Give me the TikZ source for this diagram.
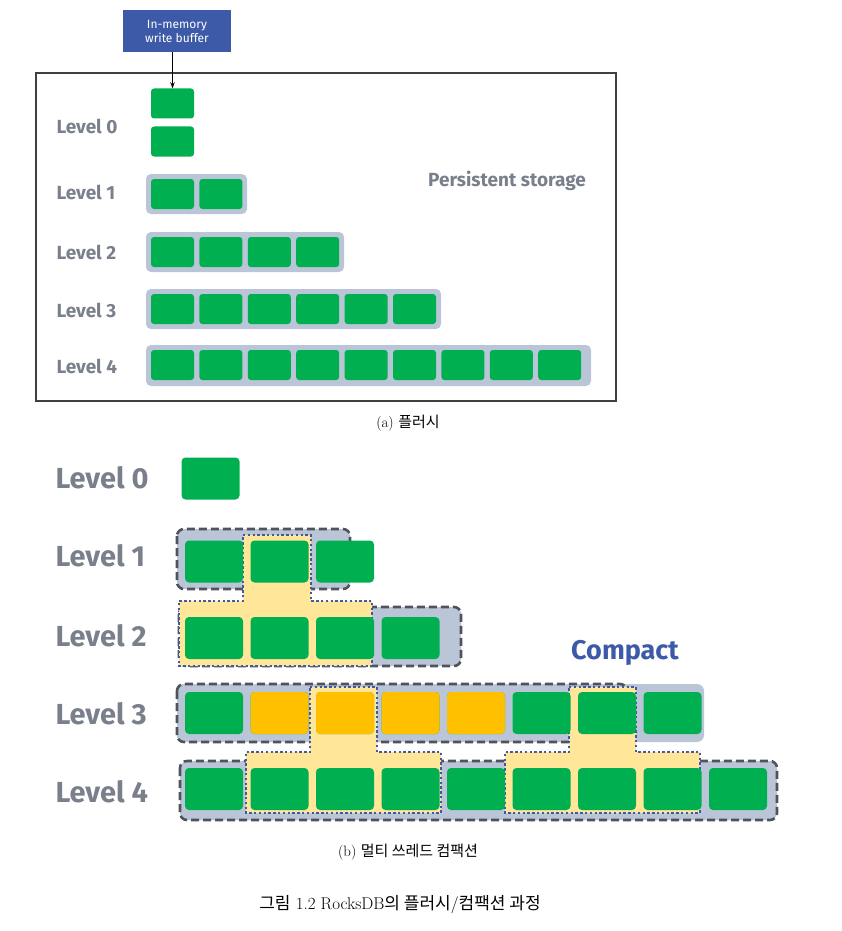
\documentclass[tikz,border=0pt]{standalone}
\usepackage{fontspec}
\setsansfont{Fira Sans}
\newfontfamily\kr{Noto Sans CJK KR}
\usetikzlibrary{arrows.meta}
\definecolor{grn}{HTML}{00B050}
\definecolor{org}{HTML}{FFC000}
\definecolor{ylw}{HTML}{FFE699}
\definecolor{gbg}{HTML}{BAC5D8}
\definecolor{dsh}{HTML}{50535A}
\definecolor{dblue}{HTML}{3D5AA8}
\definecolor{lbl}{HTML}{7A7F8C}
\begin{document}
\begin{tikzpicture}[x=1pt,y=-1pt,
  blk/.style={fill=grn,rounded corners=3pt,draw=none,inner sep=0pt},
  ablk/.style={blk,minimum width=43pt,minimum height=30pt},
  bblk/.style={blk,minimum width=58pt,minimum height=42pt,rounded corners=4pt},
  abg/.style={fill=gbg,rounded corners=5pt},
  bbg/.style={fill=gbg,draw=dsh,line width=2.6pt,dash pattern=on 8pt off 4pt,rounded corners=7pt},
  yreg/.style={fill=ylw,draw=dblue,line width=2.6pt,dash pattern=on 2.4pt off 2.4pt},
  alab/.style={font=\sffamily\bfseries\fontsize{19}{20}\selectfont,text=lbl},
  blab/.style={font=\sffamily\bfseries\fontsize{29}{30}\selectfont,text=lbl},
  captxt/.style={font=\fontsize{15}{16}\selectfont}]
\useasboundingbox (0,0) rectangle (841,931);
% ---------- (a)
\node[draw=black!75,line width=1.6pt,minimum width=580pt,minimum height=328pt,anchor=north west,inner sep=0pt] (frame) at (35,72) {};
\node[fill=dblue,text=white,font=\sffamily\fontsize{12}{14}\selectfont,align=center,minimum width=108pt,minimum height=42pt,inner sep=0pt] (wb) at (177,31) {In-memory\\write buffer};
\node[ablk] (a00) at (172.5,103.5) {};
\node[ablk] (a01) at (172.5,141.5) {};
\draw[-{Stealth[length=6pt]},line width=1.6pt] (wb.south -| a00) -- (a00.north);
\fill[abg] (146,174) rectangle (247,214);
\fill[abg] (146,232) rectangle (344,272);
\fill[abg] (146,289) rectangle (441,329);
\fill[abg] (146,345) rectangle (591,386);
\foreach \n/\y [count=\r] in {2/194,4/252,6/309,9/365}{
  \foreach \i in {1,...,\n}{
    \node[ablk] (a\r\i) at ({172.5+48.4*(\i-1)},\y) {};
  }
}
\node[alab,anchor=west] (al0) at (53,126) {Level 0};
\node[alab,anchor=west] (al1) at (53,192) {Level 1};
\node[alab,anchor=west] (al2) at (53,252) {Level 2};
\node[alab,anchor=west] (al3) at (53,310) {Level 3};
\node[alab,anchor=west] (al4) at (53,366) {Level 4};
\node[alab] (ps) at (507,181) {Persistent storage};
\node[captxt] (capa) at (408,423) {(a) {\kr 플러시}};
% ---------- (b)
\node[bblk] (b0) at (210.5,478.5) {};
\draw[bbg] (177,529) rectangle (350,589);
\draw[bbg] (179,607) rectangle (461,666);
\draw[yreg] (243,535) -- (311,535) -- (311,601) -- (372,601) -- (372,666) -- (179,666) -- (179,601) -- (243,601) -- cycle;
\fill[gbg,rounded corners=7pt] (177,684) rectangle (704,742);
\draw[bbg] (177,684) rectangle (627,742);
\draw[bbg] (180,761) rectangle (777,820);
\draw[yreg] (310,687) -- (377,687) -- (377,752) -- (441,752) -- (441,813) -- (246,813) -- (246,752) -- (310,752) -- cycle;
\draw[yreg] (569,687) -- (636,687) -- (636,752) -- (700,752) -- (700,813) -- (505,813) -- (505,752) -- (569,752) -- cycle;
\foreach \n/\y [count=\r] in {3/561.5,4/638,8/713,9/789}{
  \foreach \i in {1,...,\n}{
    \node[bblk] (b\r\i) at ({214+65.5*(\i-1)},\y) {};
  }
}
\foreach \i in {2,...,5}{\node[bblk,fill=org] (o\i) at ({214+65.5*(\i-1)},713) {};}
\node[blab,anchor=west] (bl0) at (52,478) {Level 0};
\node[blab,anchor=west] (bl1) at (52,556) {Level 1};
\node[blab,anchor=west] (bl2) at (52,636) {Level 2};
\node[blab,anchor=west] (bl3) at (52,714) {Level 3};
\node[blab,anchor=west] (bl4) at (52,792) {Level 4};
\node[font=\sffamily\bfseries\fontsize{27}{28}\selectfont,text=dblue] (cmp) at (625,653) {Compact};
\node[captxt] (capb) at (408,852) {(b) {\kr 멀티 쓰레드 컴팩션}};
\node[font=\fontsize{17}{18}\selectfont] (capf) at (400,905) {{\kr 그림} 1.2 RocksDB{\kr 의 플러시}/{\kr 컴팩션 과정}};
\end{tikzpicture}
\end{document}
